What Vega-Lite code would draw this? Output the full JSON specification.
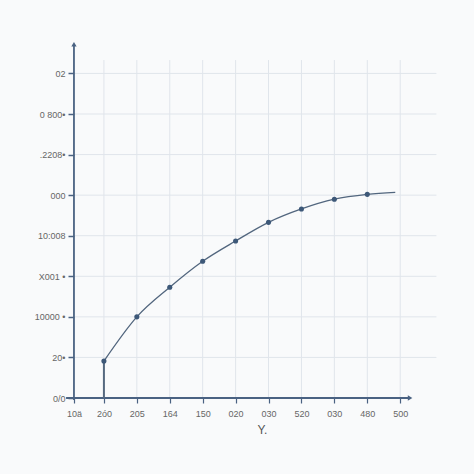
{
  "$schema": "https://vega.github.io/schema/vega-lite/v6.json",
  "autosize": "none",
  "padding": {"left": 71, "top": 43, "right": 31, "bottom": 76},
  "width": 372,
  "height": 355,
  "background": "#f9fafb",
  "config": {
    "view": {"stroke": null},
    "axis": {"labelFont": "Liberation Sans", "titleFont": "Liberation Sans", "labelOverlap": false},
    "axisX": {
      "grid": false, "domain": false,
      "tickColor": "#4a6282", "tickSize": 5, "tickWidth": 1.2,
      "labelColor": "#666666", "labelFontSize": 9, "labelPadding": 6,
      "titleFontSize": 12, "titleFontWeight": "normal", "titleColor": "#555555",
      "titleX": 191, "titlePadding": 6
    },
    "axisY": {
      "grid": false, "domain": false,
      "tickColor": "#4a6282", "tickSize": 6, "tickWidth": 1.5,
      "labelColor": "#666666", "labelFontSize": 9, "labelPadding": 3
    }
  },
  "datasets": {
    "curve": [
      {"x": 1, "y": 0.91, "pt": true},
      {"x": 2, "y": 2.0, "pt": true},
      {"x": 3, "y": 2.73, "pt": true},
      {"x": 4, "y": 3.37, "pt": true},
      {"x": 5, "y": 3.87, "pt": true},
      {"x": 6, "y": 4.33, "pt": true},
      {"x": 7, "y": 4.66, "pt": true},
      {"x": 8, "y": 4.9, "pt": true},
      {"x": 9, "y": 5.02, "pt": true},
      {"x": 9.85, "y": 5.07, "pt": false}
    ],
    "vgrid": [{"x": 1}, {"x": 2}, {"x": 3}, {"x": 4}, {"x": 5}, {"x": 6}, {"x": 7}, {"x": 8}, {"x": 9}, {"x": 10}],
    "hgrid": [{"y": 1}, {"y": 2}, {"y": 3}, {"y": 4}, {"y": 5}, {"y": 6}, {"y": 7}, {"y": 8}]
  },
  "encoding": {
    "x": {
      "type": "quantitative",
      "scale": {"domain": [0, 11.3], "nice": false, "zero": false},
      "axis": {
        "values": [0.09, 1, 2, 3, 4, 5, 6, 7, 8, 9, 10],
        "labelExpr": "['10ä','2ó0','205','164','150','020','030','520','030','480','500'][round(datum.value)]",
        "title": "Y."
      }
    },
    "y": {
      "type": "quantitative",
      "scale": {"domain": [0, 8.75], "nice": false, "zero": false},
      "axis": {
        "values": [0, 1, 2, 3, 4, 5, 6, 7, 8],
        "labelExpr": "['0/0','20•','10000 •','X001 •','10:008','000','.2208•','0 800•','02'][round(datum.value)]",
        "offset": -3,
        "title": null
      }
    }
  },
  "layer": [
    {
      "data": {"name": "vgrid"},
      "mark": {"type": "rule", "color": "#e0e5eb", "strokeWidth": 1},
      "encoding": {
        "x": {"field": "x", "type": "quantitative"},
        "y": {"datum": 0, "type": "quantitative"},
        "y2": {"datum": 8.33}
      }
    },
    {
      "data": {"name": "hgrid"},
      "mark": {"type": "rule", "color": "#e0e5eb", "strokeWidth": 1},
      "encoding": {
        "y": {"field": "y", "type": "quantitative"},
        "x": {"datum": 0.09, "type": "quantitative"},
        "x2": {"datum": 11.1}
      }
    },
    {
      "data": {"values": [{}]},
      "mark": {"type": "rule", "color": "#4a6282", "strokeWidth": 1.8},
      "encoding": {
        "x": {"datum": -0.15, "type": "quantitative"},
        "x2": {"datum": 10.3},
        "y": {"datum": 0, "type": "quantitative"}
      }
    },
    {
      "data": {"values": [{}]},
      "mark": {"type": "rule", "color": "#4a6282", "strokeWidth": 1.8},
      "encoding": {
        "x": {"datum": 0.09, "type": "quantitative"},
        "y": {"datum": -0.05, "type": "quantitative"},
        "y2": {"datum": 8.7}
      }
    },
    {
      "data": {"values": [{}]},
      "mark": {"type": "point", "shape": "triangle-up", "filled": true, "color": "#4a6282", "size": 28, "opacity": 1},
      "encoding": {
        "x": {"datum": 0.09, "type": "quantitative"},
        "y": {"datum": 8.72, "type": "quantitative"}
      }
    },
    {
      "data": {"values": [{}]},
      "mark": {"type": "point", "shape": "triangle-right", "filled": true, "color": "#4a6282", "size": 28, "opacity": 1},
      "encoding": {
        "x": {"datum": 10.3, "type": "quantitative"},
        "y": {"datum": 0, "type": "quantitative"}
      }
    },
    {
      "data": {"values": [{}]},
      "mark": {"type": "rule", "color": "#56697f", "strokeWidth": 2},
      "encoding": {
        "x": {"datum": 1, "type": "quantitative"},
        "y": {"datum": 0, "type": "quantitative"},
        "y2": {"datum": 0.91}
      }
    },
    {
      "data": {"name": "curve"},
      "mark": {"type": "line", "color": "#52667e", "strokeWidth": 1.3, "interpolate": "monotone"},
      "encoding": {
        "x": {"field": "x", "type": "quantitative"},
        "y": {"field": "y", "type": "quantitative"}
      }
    },
    {
      "data": {"name": "curve"},
      "transform": [{"filter": "datum.pt"}],
      "mark": {"type": "point", "shape": "circle", "filled": true, "color": "#3d5878", "size": 26, "opacity": 1},
      "encoding": {
        "x": {"field": "x", "type": "quantitative"},
        "y": {"field": "y", "type": "quantitative"}
      }
    }
  ]
}
